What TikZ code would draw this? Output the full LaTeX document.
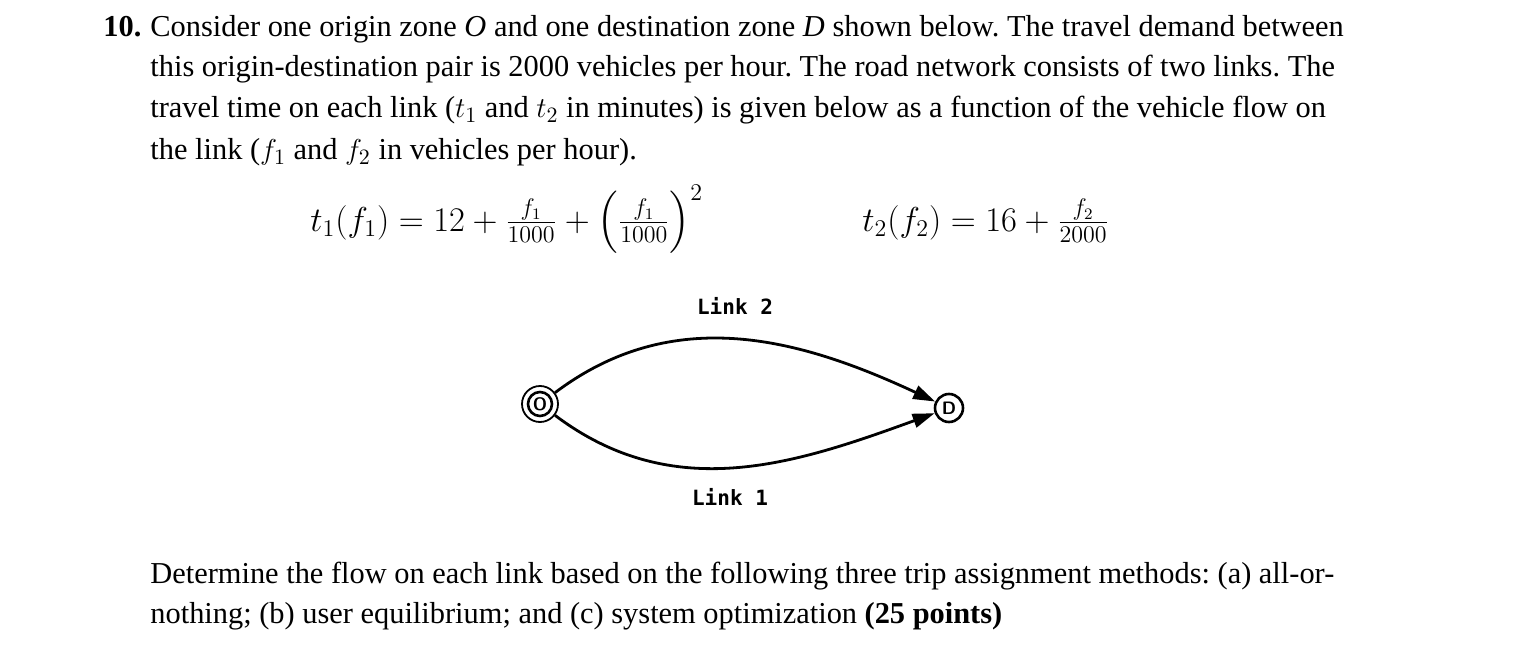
\documentclass[tikz,border=0pt]{standalone}
\usepackage{amsmath}
\usepackage{fontspec}
\setmainfont{Liberation Serif}
\newfontfamily\linkfont{DejaVu Sans Mono}
\usetikzlibrary{arrows.meta}
\begin{document}
\frenchspacing
\begin{tikzpicture}[x=0.5pt,y=-0.5pt,
  txt/.style={anchor=base west,inner sep=0pt,font=\fontsize{15.2}{18}\selectfont},
  eq/.style={anchor=base west,inner sep=0pt,font=\fontsize{16.8}{19}\selectfont},
  lab/.style={font=\linkfont\bfseries\fontsize{10.5}{12}\selectfont,inner sep=0pt},
  zone/.style={circle,draw,line width=1.3pt,minimum size=14pt,inner sep=0pt,font=\sffamily\bfseries\fontsize{9}{10}\selectfont},
  link/.style={line width=1.4pt,-{Triangle[length=11pt,width=7pt]}}]
\useasboundingbox (0,0) rectangle (1536,647);
\node[txt] (n) at (103,37) {\textbf{10.}};
\node[txt] (l1) at (150,37) {Consider one origin zone \textit{O} and one destination zone \textit{D} shown below. The travel demand between};
\node[txt] (l2) at (150,77) {this origin-destination pair is 2000 vehicles per hour. The road network consists of two links. The};
\node[txt] (l3) at (150,118) {travel time on each link ($t_1$ and $t_2$ in minutes) is given below as a function of the vehicle flow on};
\node[txt] (l4) at (150,160) {the link ($f_1$ and $f_2$ in vehicles per hour).};
\node[eq] (e1) at (310,231) {$t_1(f_1) = 12 + \tfrac{f_1}{1000} + \left(\tfrac{f_1}{1000}\right)^{2}$};
\node[eq] (e2) at (862,231) {$t_2(f_2) = 16 + \tfrac{f_2}{2000}$};
\node[zone,minimum size=12pt] (O) at (540,404) {O};
\node[circle,draw,line width=0.9pt,minimum size=18pt,inner sep=0pt] (Oo) at (540,404) {};
\node[zone] (D) at (949,408) {D};
\draw[link] (Oo) to[out=37,in=155] (D);
\draw[link] (Oo) to[out=-37,in=200] (D);
\node[lab] (L2) at (735,306) {Link 2};
\node[lab] (L1) at (730,497) {Link 1};
\node[txt] (b1) at (150,583) {Determine the flow on each link based on the following three trip assignment methods: (a) all-or-};
\node[txt] (b2) at (150,623) {nothing; (b) user equilibrium; and (c) system optimization \textbf{(25 points)}};
\end{tikzpicture}
\end{document}
